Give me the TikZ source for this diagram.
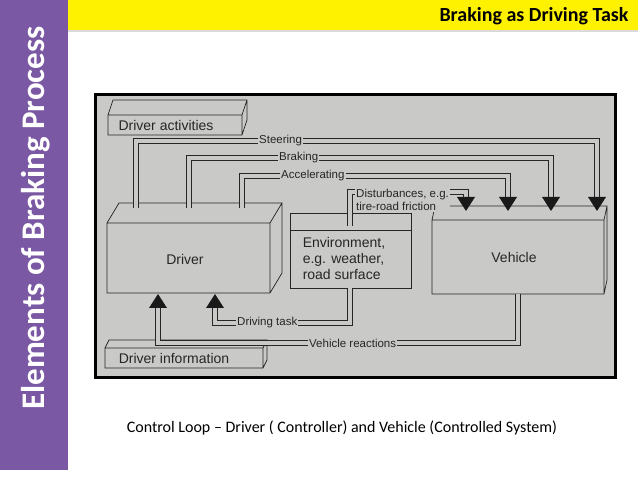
\documentclass[tikz,border=0pt]{standalone}
\usepackage{fontspec}
\setmainfont{Carlito}
\newfontfamily\arial{Liberation Sans}
\definecolor{photo}{HTML}{C9C9C7}
\definecolor{barpurple}{HTML}{7A58A3}
\begin{document}
\begin{tikzpicture}[x=1pt,y=-1pt,line join=miter,
  pipe/.style={draw=black!85,double=photo,double distance=4.6pt,line width=0.7pt},
  lbl/.style={font=\arial\fontsize{11.5}{13}\selectfont,fill=photo,inner sep=1pt,text=black!85},
  big/.style={font=\arial\fontsize{14}{16}\selectfont,text=black!85,align=left}]
\useasboundingbox (0,0) rectangle (638,478);
\fill[white] (0,0) rectangle (638,478);
% slide frame
\fill[barpurple] (0,0) rectangle (68,470);
\node[rotate=90,text=white,font=\bfseries\fontsize{33}{35}\selectfont] (side) at (36,218) {Elements of Braking Process};
\fill[yellow] (68,0) rectangle (638,30);
\fill[black!15] (68,30) rectangle (638,32);
\node[anchor=east,font=\bfseries\fontsize{20}{22}\selectfont] (title) at (632,16) {Braking as Driving Task};
\node[font=\fontsize{16}{18}\selectfont] (cap) at (342,428) {Control Loop – Driver ( Controller) and Vehicle (Controlled System)};
% photo
\draw[fill=photo,line width=3pt] (95,95) rectangle (615,378);
\newcommand\cube[6]{%
  \draw[fill=photo,line width=0.7pt,draw=black!85] (#1,#2) rectangle (#3,#4)
    (#1,#2) -- ++(#5,#6) -- (#3+#5,#2+#6) -- (#3,#2)
    (#3+#5,#2+#6) -- (#3+#5,#4+#6) -- (#3,#4);}
\cube{108}{115}{242}{135}{5}{-15}
\cube{107}{223}{270}{293}{12}{-20}
\cube{290}{230}{411}{288}{0}{-17}
\cube{432}{220}{604}{294}{3}{-14}
\cube{105}{348}{263}{368}{4}{-8}
\node[big] (act) at (166,125) {Driver activities};
\node[big] (drv) at (185,259) {Driver};
\node[big] (env) at (344,258) {Environment,\\e.g. weather,\\road surface};
\node[big] (veh) at (514,257) {Vehicle};
\node[big] (inf) at (174,358) {Driver information};
% labels
\node[lbl,anchor=west] (st) at (258,141) {Steering};
\node[lbl,anchor=west] (br) at (278,158) {Braking};
\node[lbl,anchor=west] (ac) at (280,176) {Accelerating};
\node[lbl,anchor=west,align=left] (di) at (355,200) {Disturbances, e.g.\\tire-road friction};
\node[lbl,anchor=west] (dt) at (236,323) {Driving task};
\node[lbl,anchor=west] (vr) at (308,343) {Vehicle reactions};
% pipes
\draw[pipe] (136,208) -- (136,141) -- (st.west);
\draw[pipe] (st.east) -- (597,141) -- (597,198);
\draw[pipe] (189,208) -- (189,158) -- (br.west);
\draw[pipe] (br.east) -- (551,158) -- (551,198);
\draw[pipe] (242,208) -- (242,176) -- (ac.west);
\draw[pipe] (ac.east) -- (508,176) -- (508,198);
\draw[pipe] (350,226) -- (350,192) -- (di.west |- 0,192);
\draw[pipe] (di.north east |- 0,192) -- (466,192) -- (466,198);
\draw[pipe] (350,288) -- (350,323) -- (dt.east);
\draw[pipe] (dt.west) -- (215,323) -- (215,307);
\draw[pipe] (518,294) -- (518,343) -- (vr.east);
\draw[pipe] (vr.west) -- (158,343) -- (158,307);
% arrowheads
\foreach \x in {466,508,551,597}
  \fill[black!90] (\x-9,197) -- (\x+9,197) -- (\x,211) -- cycle;
\foreach \x in {158,215}
  \fill[black!90] (\x-9,308) -- (\x+9,308) -- (\x,294) -- cycle;
\end{tikzpicture}
\end{document}
